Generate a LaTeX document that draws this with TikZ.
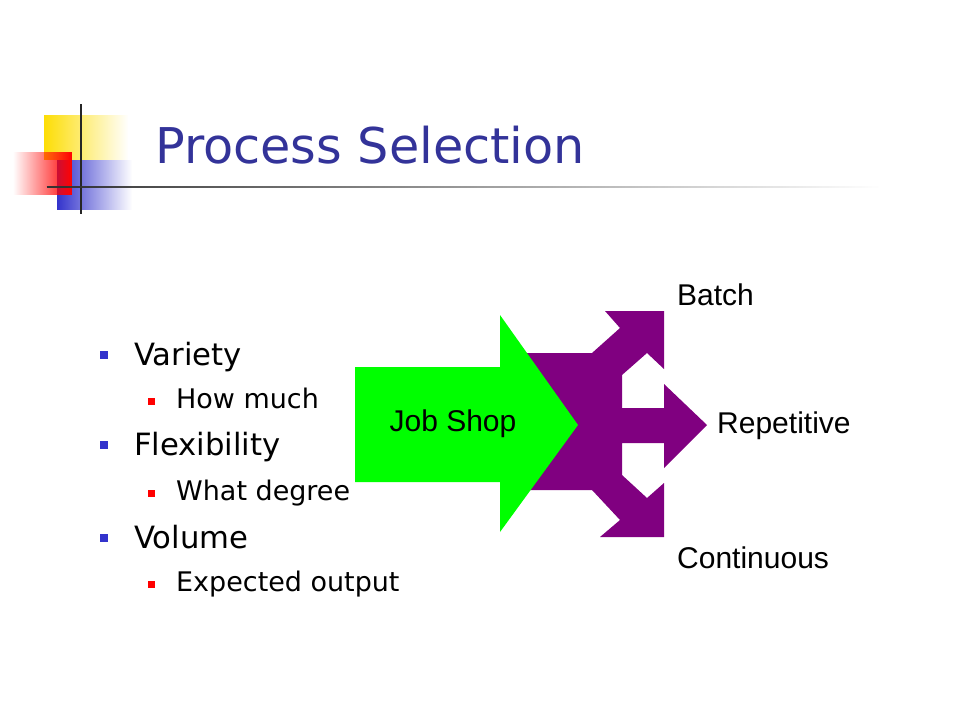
\documentclass[tikz,border=0pt]{standalone}
\usepackage{fontspec}
\setmainfont{Liberation Sans}
\newfontfamily\tahoma{DejaVu Sans}[Scale=0.93]
\usetikzlibrary{fadings}
\definecolor{titleblue}{RGB}{51,51,153}
\definecolor{bulletblue}{RGB}{51,51,204}
\definecolor{shopgreen}{RGB}{0,255,0}
\definecolor{flowpurple}{RGB}{128,0,128}

\begin{document}
\begin{tikzpicture}[x=1pt,y=-1pt,
  mainitem/.style={anchor=base west,font=\tahoma\fontsize{33}{38}\selectfont},
  subitem/.style={anchor=base west,font=\tahoma\fontsize{29}{33}\selectfont},
  outlabel/.style={anchor=base west,font=\fontsize{30}{34}\selectfont},
  every node/.style={inner sep=0pt}]
\useasboundingbox (0,0) rectangle (960,720);

% logo and title rule
\fill[yellow!80!orange,path fading=east] (44,115) rectangle (128,160);
\fill[bulletblue,path fading=east] (57,160) rectangle (132,210);
\fill[red,path fading=west] (13,152) rectangle (72,195);
\draw[black!85,line width=2pt] (81,104) -- (81,214);
\draw[black!80,line width=2pt,path fading=east] (47,187) -- (880,187);
\node[anchor=base west,text=titleblue,font=\tahoma\fontsize{53}{62}\selectfont] (title) at (155,163) {Process Selection};

% bullet list
\foreach \name/\txt/\yy in {variety/Variety/365,flexibility/Flexibility/455,volume/Volume/548}{
  \fill[bulletblue] (100,\yy-6) rectangle +(8,-8);
  \node[mainitem] (\name) at (134,\yy) {\txt};
}
\foreach \name/\txt/\yy in {howmuch/How much/408,degree/What degree/500,output/Expected output/591}{
  \fill[red] (148,\yy-3) rectangle +(7,-7);
  \node[subitem] (\name) at (176,\yy) {\txt};
}

% three-way split arrow
\fill[flowpurple] (510,353) -- (592,353) -- (620,328) -- (605,311) -- (664,311) -- (664,369)
  -- (647,353) -- (622,375) -- (622,408) -- (664,408) -- (664,384) -- (707,425)
  -- (664,468) -- (664,443) -- (622,443) -- (622,475) -- (647,498) -- (664,483)
  -- (664,537) -- (600,537) -- (620,520) -- (592,490) -- (510,490) -- cycle;
\fill[shopgreen] (355,367) -- (500,367) -- (500,315) -- (578,425) -- (500,532)
  -- (500,482) -- (355,482) -- cycle;
\node[font=\fontsize{30}{34}\selectfont] (jobshop) at (453,424) {Job Shop};

\node[outlabel] (batch) at (677,305) {Batch};
\node[outlabel] (repetitive) at (717,433) {Repetitive};
\node[outlabel] (continuous) at (677,568) {Continuous};
\end{tikzpicture}
\end{document}
